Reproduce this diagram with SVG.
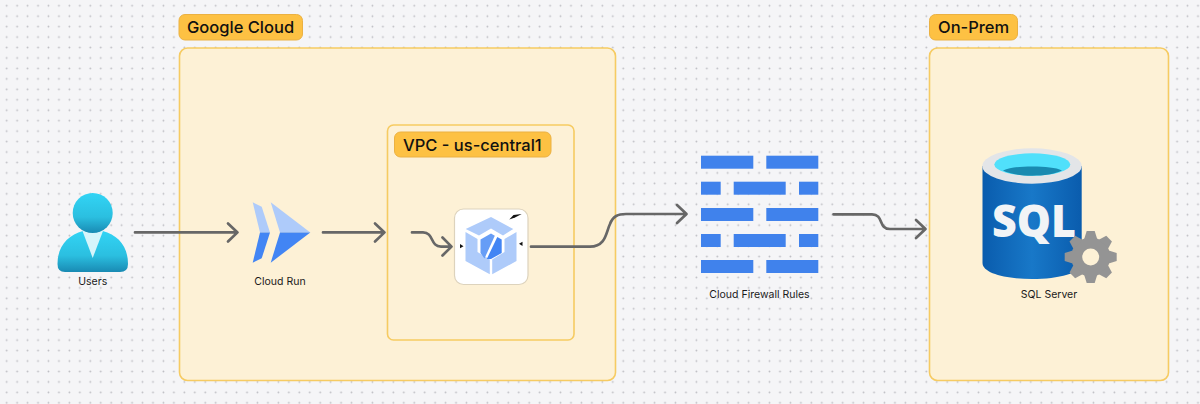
<svg xmlns="http://www.w3.org/2000/svg" xmlns:xlink="http://www.w3.org/1999/xlink" width="1200" height="404" viewBox="0 0 1200 404">
<style>
.zone{fill:#fdf1d6;stroke:#f6cb62;stroke-width:1.6}
.tag{fill:#fdc143;stroke:#ebb142;stroke-width:1}
.tagt{font-family:Inter,"Liberation Sans",sans-serif;font-weight:500;font-size:16.5px;fill:#111}
.lab{font-family:Inter,"Liberation Sans",sans-serif;font-size:10.5px;fill:#1a1a1a;text-anchor:middle}
.con{fill:none;stroke:#676767;stroke-width:2.7;stroke-linecap:round;stroke-linejoin:round}
.fw{fill:#4082ec}
</style>
<defs>
<pattern id="dots" x="1.5" y="0.5" width="10.45" height="10.45" patternUnits="userSpaceOnUse"><circle cx="5.2" cy="5.2" r="0.9" fill="#bdbdc2"/></pattern>
<linearGradient id="ug" x1="0" y1="0" x2="0" y2="1"><stop offset="0" stop-color="#32d4f5"/><stop offset="0.6" stop-color="#2bbfe0"/><stop offset="1" stop-color="#198ab3"/></linearGradient>
<linearGradient id="db" x1="0" y1="0" x2="1" y2="0"><stop offset="0" stop-color="#0a5cad"/><stop offset="0.5" stop-color="#1878c8"/><stop offset="1" stop-color="#0a5cad"/></linearGradient>
<polygon id="tooth" points="-6.5,-18 -4,-26 4,-26 6.5,-18"/>
</defs>
<rect width="1200" height="404" fill="#f5f5f7"/>
<rect width="1200" height="404" fill="url(#dots)"/>

<g id="google-cloud">
<rect class="zone" x="179.500" y="48" width="436" height="332.500" rx="8"/>
<rect class="tag" x="179" y="14.500" width="123.500" height="25.500" rx="6"/>
<text class="tagt" x="187" y="33">Google Cloud</text>
</g>
<g id="on-prem">
<rect class="zone" x="929.500" y="48" width="239" height="332.500" rx="8"/>
<rect class="tag" x="929.500" y="14.500" width="88" height="25.500" rx="6"/>
<text class="tagt" x="938" y="33">On-Prem</text>
</g>
<g id="vpc">
<rect class="zone" x="387.500" y="125" width="186.500" height="215" rx="6"/>
<rect class="tag" x="394.500" y="132" width="156.500" height="25" rx="6"/>
<text class="tagt" x="403" y="150.500">VPC - us-central1</text>
</g>

<g id="connectors">
<path class="con" d="M135 232.400H237M228 223.500L237.500 232.400L228 241.500"/>
<path class="con" d="M323 232.400H384M375 223.500L384.500 232.400L375 241.500"/>
<path class="con" d="M412 232.400H423C434 232.400 430 246.600 441 246.600H451M442.500 237.500L451.500 246.600L442.500 255.500"/>
<path class="con" d="M531 246.700H590C606 246.700 606 232 610 224C613 216 618 214 626 214H686M677 205L686.500 214L677 223"/>
<path class="con" d="M833.500 214.300H872C884 214.300 878 229 890 229H925M916 220L925.500 229L916 238"/>
</g>

<g id="users">
<path fill="url(#ug)" d="M57.500 264C57.500 246 68 235 83 231L92.700 240L102.700 231C118 235 128 246 128 264Q128 272 120 272H65Q57.500 272 57.500 264Z"/>
<polygon fill="#d6f5fb" points="82.500,231 103,231 92.700,258"/>
<circle cx="92.700" cy="213" r="20" fill="url(#ug)"/>
<text class="lab" x="92.700" y="285">Users</text>
</g>

<g id="cloud-run">
<polygon fill="#aecbfa" points="252.700,202.300 261.700,206.700 270,232.500 260,232.500"/>
<polygon fill="#4285f4" points="260,232.500 270,232.500 261.700,258.300 252.700,262.700"/>
<polygon fill="#aecbfa" points="270.700,202.300 310.300,232.500 280,232.500"/>
<polygon fill="#4285f4" points="280,232.500 310.300,232.500 270.700,262.700"/>
<text class="lab" x="280" y="285">Cloud Run</text>
</g>

<g id="vpc-connector">
<rect x="454.500" y="209" width="73.500" height="75.500" rx="9" fill="#fff" stroke="#ddd3bd" stroke-width="1.200"/>
<polygon fill="#aecbfa" points="491,217 513.300,229 503,235.500 491,228.500 479,235.500 465.700,229"/>
<polygon fill="#aecbfa" points="465.500,232 477.500,239 477.500,252 489.800,259.500 489.800,274.300 465.500,261"/>
<polygon fill="#aecbfa" points="516.500,232 504.500,239 504.500,252 492.200,259.500 492.200,274.300 516.500,261"/>
<polygon fill="#669df6" points="491,233.500 494.800,235.700 484.500,258.500 480.500,253 480.500,239.500"/>
<polygon fill="#4285f4" points="497.300,237 501.700,239.500 501.700,253 491,259 486.800,259"/>
<polygon fill="#111" points="460,244 463.500,246.200 460,248.200"/>
<polygon fill="#111" points="522.500,241.700 519,243.700 522.500,246"/>
<polygon fill="#111" points="509.300,219.500 513.500,215 521.700,214 515,217.500"/>
</g>

<g id="cloud-firewall-rules">
<rect class="fw" x="701" y="155.700" width="52.300" height="13"/><rect class="fw" x="766.300" y="155.700" width="52" height="13"/>
<rect class="fw" x="701" y="181.700" width="19.700" height="13"/><rect class="fw" x="733.700" y="181.700" width="52" height="13"/><rect class="fw" x="799" y="181.700" width="19.300" height="13"/>
<rect class="fw" x="701" y="208" width="52.300" height="13"/><rect class="fw" x="766.300" y="208" width="52" height="13"/>
<rect class="fw" x="701" y="234" width="19.700" height="13"/><rect class="fw" x="733.700" y="234" width="52" height="13"/><rect class="fw" x="799" y="234" width="19.300" height="13"/>
<rect class="fw" x="701" y="260" width="52.300" height="13"/><rect class="fw" x="766.300" y="260" width="52" height="13"/>
<text class="lab" x="759.500" y="298">Cloud Firewall Rules</text>
</g>

<g id="sql-server">
<path fill="url(#db)" d="M982.500 166V263C982.500 273 1005 279 1032 279C1059 279 1081.700 273 1081.700 263V166Z"/>
<ellipse cx="1032" cy="166" rx="49.700" ry="17.700" fill="#e3e5e8"/>
<ellipse cx="1032.300" cy="164.500" rx="38" ry="11.200" fill="#50e0fb"/>
<path fill="#198ab0" d="M1003 170.500C1010 167.500 1020 166.500 1032.300 166.500C1045 166.500 1056 167.500 1062 170.500C1055 174 1044 175.700 1032.300 175.700C1020 175.700 1010 174 1003 170.500Z"/>
<text x="992" y="237" font-family="'Open Sans','Noto Sans',sans-serif" font-weight="800" font-size="45" fill="#f2f4f6" textLength="84" lengthAdjust="spacingAndGlyphs">SQL</text>
<g fill="#949494" transform="translate(1090.700 257)">
<circle r="19.500"/>
<use xlink:href="#tooth" href="#tooth"/>
<use xlink:href="#tooth" href="#tooth" transform="rotate(45)"/>
<use xlink:href="#tooth" href="#tooth" transform="rotate(90)"/>
<use xlink:href="#tooth" href="#tooth" transform="rotate(135)"/>
<use xlink:href="#tooth" href="#tooth" transform="rotate(180)"/>
<use xlink:href="#tooth" href="#tooth" transform="rotate(225)"/>
<use xlink:href="#tooth" href="#tooth" transform="rotate(270)"/>
<use xlink:href="#tooth" href="#tooth" transform="rotate(315)"/>
<circle r="8.500" fill="#fdf1d6"/>
</g>
<text class="lab" x="1049" y="298">SQL Server</text>
</g>
</svg>
